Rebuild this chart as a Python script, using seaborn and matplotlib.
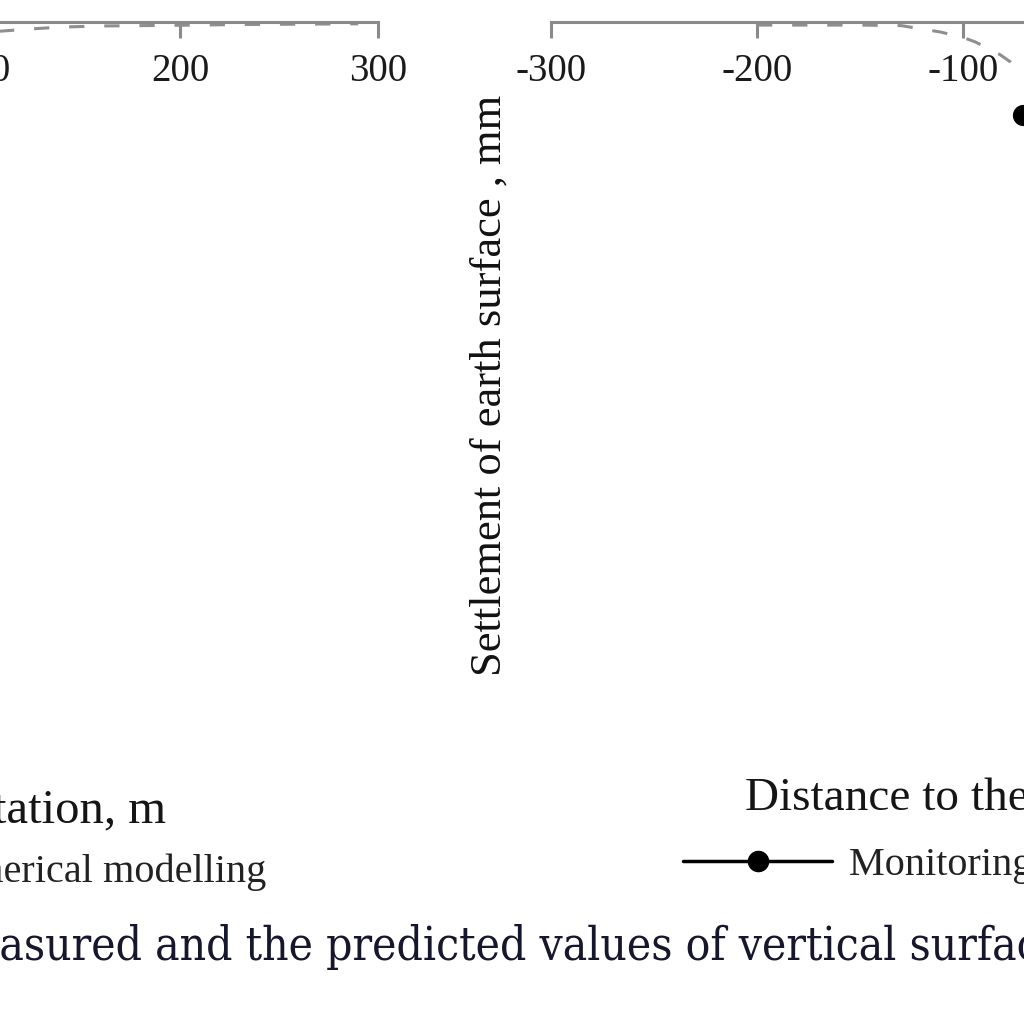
import matplotlib
matplotlib.use("Agg")
import matplotlib.pyplot as plt
from matplotlib.lines import Line2D
import seaborn as sns
import pandas as pd

sns.set_theme(style="white")
plt.rcParams["font.family"] = ["Liberation Serif", "DejaVu Serif"]
plt.rcParams["axes.unicode_minus"] = False

# ---------------- data ----------------
tick_values = [-300, -200, -100, 0, 100, 200, 300]

left_model_x = [100, 110, 125, 140, 160, 180, 200, 230, 260, 290]
left_model_y = [-0.55, -0.5, -0.38, -0.28, -0.22, -0.2, -0.18, -0.14, -0.12, -0.1]

right_model_x = [-200, -175, -150, -130, -111, -100, -94, -82, -77, -72]
right_model_y = [-0.17, -0.17, -0.17, -0.2, -0.55, -0.85, -1.1, -1.8, -2.2, -3.0]

right_monitor_x = [-71]
right_monitor_y = [-5.1]

legend_labels = ["Monitoring data", "Numerical modelling"]
xlabel_text = "Distance to the station, m"
ylabel_text = "Settlement of earth surface , mm"
caption_text = "measured and the predicted values of vertical surface settlement"

# ---------------- style ----------------
W = H = 1024.0
spine_col = "#8a8a8a"
model_col = "#8f8f8f"
dash = (0, (5, 6.5))

fig = plt.figure(figsize=(10.24, 10.24), dpi=100)

def px_axes(left, right, top, bottom):
    return [left / W, 1 - bottom / H, (right - left) / W, (bottom - top) / H]

axL = fig.add_axes(px_axes(-810, 378, 22, 748))
axR = fig.add_axes(px_axes(551, 1787, 22, 748))

def style_axis(ax):
    ax.set_xlim(-300, 300)
    ax.set_ylim(-40, 0)
    ax.set_facecolor("none")
    for s in ["left", "right", "top"]:
        ax.spines[s].set_visible(False)
    ax.spines["bottom"].set_position(("axes", 1.0))
    ax.spines["bottom"].set_color(spine_col)
    ax.spines["bottom"].set_linewidth(2.2)
    ax.set_xticks(tick_values)
    ax.set_xticklabels([str(v) for v in tick_values])
    ax.tick_params(axis="x", direction="out", length=11.5, width=2.2,
                   color=spine_col, pad=11, labelsize=28, labelcolor="#1a1a1a",
                   bottom=True, top=False)
    ax.set_yticks([])
    ax.grid(False)

style_axis(axL)
style_axis(axR)

df_left = pd.DataFrame({"x": left_model_x, "y": left_model_y})
df_right = pd.DataFrame({"x": right_model_x, "y": right_model_y})
df_mon = pd.DataFrame({"x": right_monitor_x, "y": right_monitor_y})

sns.lineplot(data=df_left, x="x", y="y", ax=axL, color=model_col, lw=2.2,
             linestyle=dash, sort=False)
sns.lineplot(data=df_right, x="x", y="y", ax=axR, color=model_col, lw=2.2,
             linestyle=dash, sort=False)
sns.lineplot(data=df_mon, x="x", y="y", ax=axR, color="black", lw=2.5,
             marker="o", markersize=14.5, mec="black", mfc="black", sort=False)

for ax in (axL, axR):
    ax.set_xlabel("")
    ax.set_ylabel("")
    ax.set_ylim(-40, 0)
    ax.set_xlim(-300, 300)

# axis labels
ylab = axR.set_ylabel(ylabel_text, fontsize=32, color="#111111")
ylab.set_visible(True)
axR.yaxis.set_label_coords((510 - 551) / 1236, 0.5)

xlabR = axR.set_xlabel(xlabel_text, fontsize=34, color="#151515", ha="left", va="baseline")
xlabR.set_visible(True)
axR.xaxis.set_label_coords((745 - 551) / 1236, -(810 - 748) / 726)

xlabL = axL.set_xlabel(xlabel_text, fontsize=35, color="#151515", ha="right", va="baseline")
xlabL.set_visible(True)
axL.xaxis.set_label_coords((166 + 810) / 1188, -(822 - 748) / 726)

# legends
def make_handles():
    return [
        Line2D([], [], color="black", lw=2.5, marker="o", markersize=14.5),
        Line2D([], [], color=model_col, lw=2.2, linestyle=dash),
    ]

leg_kw = dict(ncol=2, frameon=False, fontsize=29, borderpad=0, borderaxespad=0,
              handlelength=3.7, handletextpad=0.42, columnspacing=1.5,
              bbox_transform=fig.transFigure, labelcolor="#222222")
legR = axR.legend(make_handles(), legend_labels, loc="center left",
                  bbox_to_anchor=(683 / W, 1 - 865 / H), **leg_kw)
legL = axL.legend(make_handles(), legend_labels, loc="center right",
                  bbox_to_anchor=(266 / W, 1 - 872 / H), **leg_kw)

# caption (partially outside the crop)
renderer = fig.canvas.get_renderer()
cap_kw = dict(fontsize=33, family="DejaVu Serif", fontstretch="condensed", color="#16162c")
tmp = fig.text(0, 0, "me", **cap_kw)
pre_w = tmp.get_window_extent(renderer).width
tmp.remove()
fig.text((-pre_w - 1) / W, 1 - 960 / H, caption_text, ha="left", va="baseline", **cap_kw)

fig.savefig("out.png", dpi=100, facecolor="white")
